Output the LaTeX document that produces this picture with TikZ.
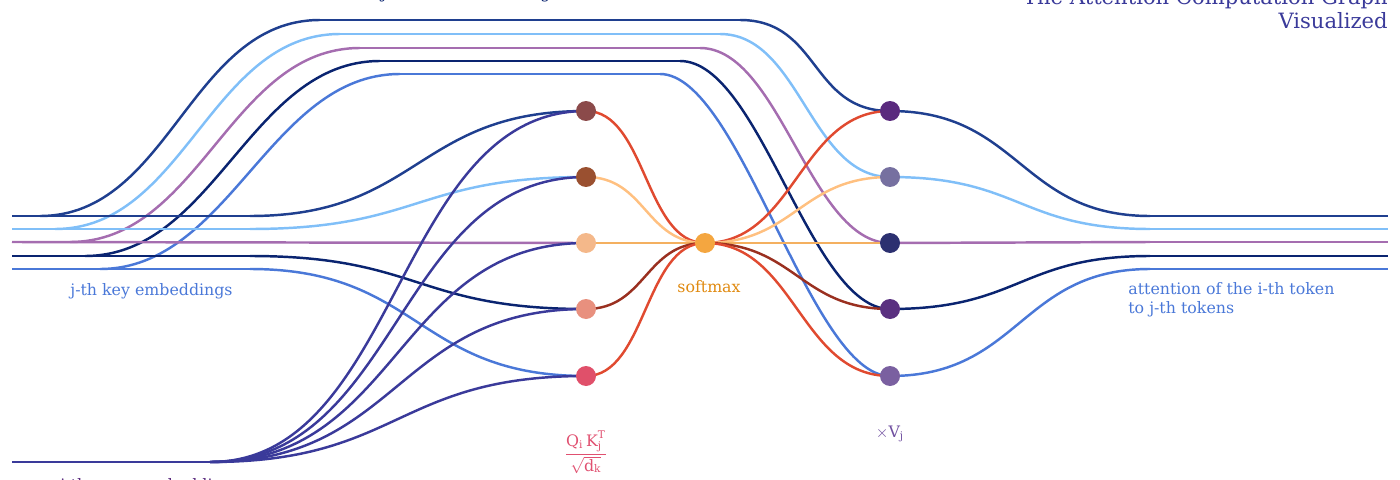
\documentclass[tikz,border=0pt]{standalone}
\usepackage{fontspec}
\setmainfont{DejaVu Serif}
\usetikzlibrary{calc}

\definecolor{kA}{HTML}{1F3F8F}
\definecolor{kB}{HTML}{80BFF8}
\definecolor{kC}{HTML}{A56DB0}
\definecolor{kD}{HTML}{0A2470}
\definecolor{kE}{HTML}{4A78D8}
\definecolor{qcol}{HTML}{3A3A9A}
\definecolor{sred}{HTML}{E04A30}
\definecolor{slight}{HTML}{FFC080}
\definecolor{sorange}{HTML}{F4B060}
\definecolor{sdark}{HTML}{9A3020}
\definecolor{mc1}{HTML}{8B4A4A}
\definecolor{mc2}{HTML}{9A5030}
\definecolor{mc3}{HTML}{F4B88A}
\definecolor{mc4}{HTML}{E8907E}
\definecolor{mc5}{HTML}{E0506A}
\definecolor{rc1}{HTML}{5A2A7E}
\definecolor{rc2}{HTML}{7670A0}
\definecolor{rc3}{HTML}{2C3070}
\definecolor{rc4}{HTML}{5A3080}
\definecolor{rc5}{HTML}{7A60A0}

\tikzset{
  flow/.style={line width=1.4pt},
  dot/.style={shape=circle, fill, inner sep=0, minimum size=0.4cm},
  lbl/.style={inner sep=0, font=\small}
}

% S-shaped connector between two named points
\newcommand{\sflow}[4]{%
  \draw[flow, #1] (#2) .. controls ($(#2)+(#4,0)$) and ($(#3)-(#4,0)$) .. (#3);}

\begin{document}
\begin{tikzpicture}[x=0.02cm, y=-0.02cm]
    \useasboundingbox (0,0) rectangle (1400,480);

    % Key / value inputs
    \foreach \n/\y/\t in {1/216/20, 2/229/34, 3/242/48, 4/256/61, 5/269/74} {
        \coordinate (in\n) at (12,\y);
        \coordinate (kb\n) at (250,\y);
        \coordinate (vs\n) at ({25+15*\n},\y);
        \coordinate (vt\n) at ({300+20*\n},\t);
        \coordinate (vd\n) at ({760-20*\n},\t);
        \coordinate (ob\n) at (1150,\y);
        \coordinate (out\n) at (1388,\y);
    }

    % Middle, softmax and right points
    \coordinate (qin) at (12,462);
    \coordinate (qb) at (210,462);
    \foreach \n/\y in {1/111, 2/177, 3/243, 4/309, 5/376} {
        \coordinate (m\n) at (586,\y);
        \coordinate (r\n) at (890,\y);
    }
    \coordinate (sm) at (705,243);

    % Value embeddings
    \foreach \n/\c in {1/kA, 2/kB, 3/kC, 4/kD, 5/kE} {
        \draw[flow, \c] (in\n) -- (vs\n);
        \sflow{\c}{vs\n}{vt\n}{130}
        \draw[flow, \c] (vt\n) -- (vd\n);
        \sflow{\c}{vd\n}{r\n}{80}
        \sflow{\c}{r\n}{ob\n}{130}
        \draw[flow, \c] (ob\n) -- (out\n);
    }

    % Key embeddings
    \foreach \n/\c in {1/kA, 2/kB, 4/kD, 5/kE} {
        \draw[flow, \c] (in\n) -- (kb\n);
        \sflow{\c}{kb\n}{m\n}{170}
    }
    \draw[flow, kC] (in3) -- (m3);

    % Query embedding
    \draw[flow, qcol] (qin) -- (qb);
    \foreach \n in {1,...,5} {
        \sflow{qcol}{qb}{m\n}{190}
    }

    % Softmax
    \foreach \n/\c in {1/sred, 2/slight, 3/sorange, 4/sdark, 5/sred} {
        \sflow{\c}{m\n}{sm}{60}
        \sflow{\c}{sm}{r\n}{90}
    }

    % Dots
    \foreach \n in {1,...,5} {
        \node[dot, rc\n] (R\n) at (r\n) {};
        \node[dot, mc\n] (M\n) at (m\n) {};
    }
    \node[dot, color={rgb,255:red,244;green,166;blue,64}] (S) at (sm) {};

    % Labels
    \node[lbl, anchor=west, kE] (klbl) at (70,291) {j-th key embeddings};
    \node[lbl, color={rgb,255:red,224;green,138;blue,16}] (slbl) at (709,287) {softmax};
    \node[lbl, anchor=north west, align=left, kE] (albl) at (1128,282)
        {attention of the i-th token\\to j-th tokens};
    \node[lbl, color={rgb,255:red,224;green,80;blue,112}] (flbl) at (586,452)
        {$\displaystyle\frac{\mathrm{Q_i\,K_j^T}}{\sqrt{\mathrm{d_k}}}$};
    \node[lbl, color={rgb,255:red,112;green,80;blue,160}] (vlbl) at (890,434) {$\times\mathrm{V_j}$};
    \node[lbl, kD] (vtop) at (470,-6) {j-th value embeddings};
    \node[lbl, anchor=west, color={rgb,255:red,90;green,42;blue,126}] (qlbl) at (60,486) {i-th query embedding};
    \node[lbl, anchor=north east, align=right, font=\large, qcol] (title) at (1388,-12)
        {The Attention Computation Graph\\Visualized};
\end{tikzpicture}
\end{document}
